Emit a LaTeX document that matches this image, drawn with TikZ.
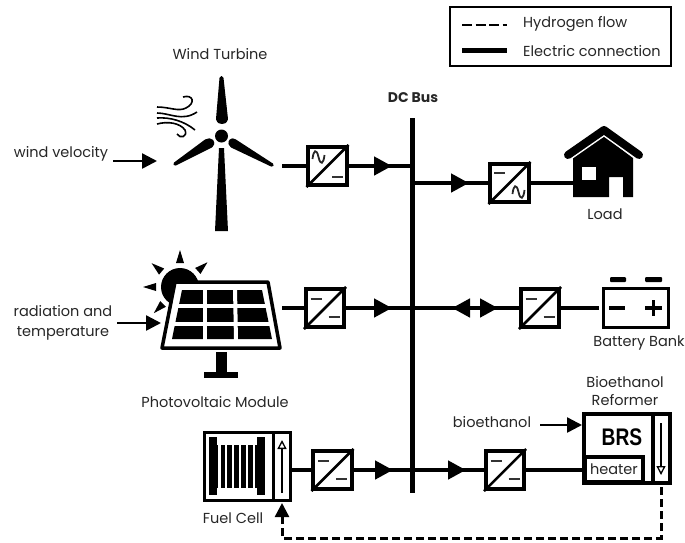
\documentclass[tikz,border=0pt]{standalone}
\usepackage{fontspec}
\setmainfont{Poppins}
\newfontfamily\brsfont{Liberation Sans}
\usetikzlibrary{positioning, arrows.meta}

\tikzset{
  lbl/.style={inner sep=0pt, text=black!85, font=\fontsize{14.5}{18}\selectfont},
  elecline/.style={line width=4.5pt},
  hydroline/.style={line width=3pt, dash pattern=on 8pt off 4pt},
  sigarrow/.style={line width=2.5pt, -{Triangle[length=15pt,width=15pt]}},
  flowtip/.style={-{Triangle[length=18pt,width=18pt]}},
  convbox/.style={draw, fill=white, line width=3.6pt, minimum size=38.5pt, inner sep=0pt},
  symline/.style={line width=2.6pt, black!80},
  sideflow/.style={line width=1.8pt, -{Triangle[open,length=9pt,width=9pt,line width=1.3pt]}}
}
\newcommand{\dcbar}[2]{\draw[symline] ([shift={(#2)}]#1) ++(-5.5,0) -- ++(11,0);}
\newcommand{\acwave}[2]{\draw[line width=1.8pt, black!85] ([shift={(#2)}]#1) ++(-6,2) .. controls +(1,-9) and +(-2,-9) .. ++(6,-2) .. controls +(2,9) and +(-1,9) .. ++(6,-2);}

\begin{document}
\begin{tikzpicture}[x=1pt,y=-1pt]
    \useasboundingbox (0,0) rectangle (685,542);
    % Bus and its junctions
    \coordinate (bustop) at (412,118);
    \coordinate (busbot) at (412,493);
    \coordinate (buswind) at (412,166);
    \coordinate (busload) at (412,183);
    \coordinate (buspv) at (412,308);
    \coordinate (busfuel) at (412,470);
    \draw [line width=5pt] (bustop) -- (busbot);
    \node[lbl, font=\fontsize{14}{16}\bfseries\selectfont] (buslabel) at (413,98) {DC Bus};

    % Converters
    \foreach \name/\px/\py in {windconv/327.5/166, loadconv/509.5/183, pvconv/325/308,
        battconv/540/308, fuelconv/332.5/470, brsconv/505/470} {
      \node[convbox] (\name) at (\px,\py) {};
      \draw[line width=2.5pt] (\name.south west) -- (\name.north east);
    }

    % Free ends of the connections
    \coordinate (windout) at (282,166);
    \coordinate (pvout) at (282,308);
    \coordinate (housein) at (575,183);
    \coordinate (tipwind) at (392,166);
    \coordinate (tipload) at (469,183);
    \coordinate (tippv) at (392,308);
    \coordinate (tipbattl) at (452,308);
    \coordinate (tipbattr) at (498,308);
    \coordinate (tipfuel) at (393,470);
    \coordinate (tipbrs) at (466,470);

    % Sources and sinks with a frame
    \node[draw, fill=white, line width=3.5pt, minimum width=86pt, minimum height=68pt, inner sep=0pt] (fuelcell) at (247.5,466.5) {};
    \node[draw, fill=white, line width=4pt, minimum width=86pt, minimum height=69pt, inner sep=0pt] (brs) at (627,448.5) {};
    \node[draw, fill=white, line width=3.5pt, minimum width=65pt, minimum height=39pt, inner sep=0pt] (battery) at (636,308) {};

    % Electric connections
    \begin{scope}[elecline]
      \draw (windout) -- (windconv);
      \draw (windconv) -- (buswind);
      \draw[flowtip] (windconv) -- (tipwind);
      \draw (busload) -- (loadconv);
      \draw[flowtip] (busload) -- (tipload);
      \draw (loadconv) -- (housein);
      \draw (pvout) -- (pvconv);
      \draw (pvconv) -- (buspv);
      \draw[flowtip] (pvconv) -- (tippv);
      \draw (buspv) -- (battconv);
      \draw[flowtip] (battconv) -- (tipbattl);
      \draw[flowtip] (buspv) -- (tipbattr);
      \draw[shorten >=3pt] (battconv) -- (battery);
      \draw (fuelcell.east |- fuelconv) -- (fuelconv);
      \draw (fuelconv) -- (busfuel);
      \draw[flowtip] (fuelconv) -- (tipfuel);
      \draw (busfuel) -- (brsconv);
      \draw[flowtip] (busfuel) -- (tipbrs);
      \draw (brsconv) -- (brsconv -| brs.west);
    \end{scope}

    % Converter symbols
    \acwave{windconv}{-9,-9}
    \dcbar{windconv}{10,11}
    \dcbar{loadconv}{-10,-10}
    \acwave{loadconv}{9,9}
    \dcbar{pvconv}{-9,-9}
    \dcbar{pvconv}{9,9}
    \dcbar{battconv}{-9,-9}
    \dcbar{battconv}{9,9}
    \dcbar{fuelconv}{-9,-9}
    \dcbar{fuelconv}{9,9}
    \dcbar{brsconv}{-9,-9}
    \dcbar{brsconv}{9,9}

    % Wind turbine
    \fill (221.5,136) circle (6.5);
    \filldraw[line width=4pt, line join=round] (221.5,78) -- (218,119)
      .. controls (218,123) and (226,123) .. (226,119) -- cycle;
    \filldraw[line width=3.5pt, line join=round] (175,164) -- (206,141)
      .. controls (211,138) and (215,143) .. (211,146) -- cycle;
    \filldraw[line width=3.5pt, line join=round] (272,165) -- (235,141)
      .. controls (231,138) and (228,143) .. (232,146) -- cycle;
    \fill (219,148) -- (224,148) -- (228,231) -- (215,231) -- cycle;
    \draw[line width=1.6pt] (157,107) .. controls (170,107) and (178,112) .. (186,108)
      .. controls (196,103) and (193,94) .. (183,97);
    \draw[line width=1.6pt] (157,113) .. controls (170,113) and (182,122) .. (197,112);
    \draw[line width=1.6pt] (157,118) .. controls (170,117) and (184,121) .. (195,130);
    \draw[line width=1.6pt] (157,124) .. controls (168,121) and (180,123) .. (185,130)
      .. controls (188,137) and (180,139) .. (177,134);
    \node[lbl] (windlabel) at (220,54) {Wind Turbine};
    \node[lbl] (windin) at (61,154) {wind velocity};
    \coordinate (windstart) at (113,161);
    \coordinate (windend) at (157,161);
    \draw[sigarrow] (windstart) -- (windend);

    % Sun and solar panel
    \fill (180,287) circle (19);
    \foreach \ang in {90,140,180,225,42} {
      \fill[rotate around={\ang-90:(180,287)}] (176,263) -- (184,263) -- (180,250) -- cycle;
    }
    \filldraw[fill=white, line width=3.5pt, line join=round] (175,282) -- (268,282) -- (280,348) -- (162,348) -- cycle;
    \fill (182,290) -- (262,290) -- (272,339) -- (172,339) -- cycle;
    \draw[white, line width=4pt] (176,306) -- (268,306);
    \draw[white, line width=4pt] (173,324) -- (272,324);
    \draw[white, line width=4pt] (205,288) -- (205,341);
    \draw[white, line width=4pt] (235,288) -- (236,341);
    \fill (216,352) rectangle (227,372);
    \fill (204,372) rectangle (238,378);
    \node[lbl] (pvlabel) at (215,402) {Photovoltaic Module};
    \node[lbl, align=center] (pvin) at (63,323) {radiation and\\[2pt]temperature};
    \coordinate (pvstart) at (117,323);
    \coordinate (pvend) at (161,323);
    \draw[sigarrow] (pvstart) -- (pvend);

    % House
    \fill (573,197) -- (573,158) -- (604,136) -- (633,158) -- (633,197) -- (623,197) -- (623,177) -- (609,177) -- (609,197) -- cycle;
    \fill[white] (582,167) rectangle (596,180);
    \draw[white, line width=11pt, line join=round] (568,155) -- (604,130) -- (639,155);
    \draw[line width=8pt, line cap=round, line join=round] (568,155) -- (604,130) -- (639,155);
    \node[lbl] (loadlabel) at (605,214) {Load};

    % Battery
    \fill[rounded corners=1pt] (610,277) rectangle (626,282);
    \fill[rounded corners=1pt] (645,277) rectangle (662,282);
    \draw[line width=3.5pt] (609,308) -- (625,308);
    \draw[line width=3.5pt] (645,308) -- (662,308);
    \draw[line width=3.5pt] (653.5,300) -- (653.5,316);
    \node[lbl] (battlabel) at (639,343) {Battery Bank};

    % Fuel cell
    \draw[line width=3pt] (273,431) -- (273,502);
    \fill (209,437) rectangle (217,495);
    \fill (257,437) rectangle (265,495);
    \fill (217,445) rectangle (257,488);
    \foreach \slot in {219.5,226,233,240,247,254} {
      \fill[white] (\slot-1.3,445) rectangle (\slot+1.3,488);
    }
    \coordinate (fueltop) at (282,440);
    \coordinate (fuelbot) at (282,493);
    \draw[sideflow] (fuelbot) -- (fueltop);
    \node[lbl] (fuellabel) at (233,518) {Fuel Cell};

    % Reformer
    \draw[line width=3.5pt] (653,412) -- (653,485);
    \node[draw, fill=white, line width=3.5pt, minimum width=58pt, minimum height=25pt, inner sep=0pt, lbl] (heater) at (614,469.5) {heater};
    \node[inner sep=0pt, font=\brsfont\fontsize{24}{26}\bfseries\selectfont] (brslabel) at (622,437) {\scalebox{0.8}[1]{BRS}};
    \coordinate (brstop) at (661,423);
    \coordinate (brsbot) at (661,475);
    \draw[sideflow] (brstop) -- (brsbot);
    \node[lbl, align=center] (brsname) at (625,391) {Bioethanol\\Reformer};
    \node[lbl] (ethlabel) at (492,422) {bioethanol};
    \coordinate (ethstart) at (540,425);
    \draw[sigarrow] (ethstart) -- (ethstart -| brs.west);

    % Hydrogen return
    \coordinate (hout) at (661,487);
    \coordinate (hlow) at (661,538);
    \coordinate (hin) at (282,503);
    \draw[hydroline] (hout) -- (hlow) -| (282,516);
    \draw[line width=2.5pt, -{Triangle[length=14pt,width=14pt]}] (282,519) -- (hin);

    % Legend
    \node[draw, line width=2pt, minimum width=221pt, minimum height=59pt, inner sep=0pt] (legend) at (560.5,36.5) {};
    \coordinate (leghs) at (462,25);
    \coordinate (leghe) at (507,25);
    \coordinate (leges) at (462,50);
    \coordinate (legee) at (507,50);
    \draw[line width=1.6pt, dash pattern=on 10pt off 3.5pt] (leghs) -- (leghe);
    \draw[line width=5pt] (leges) -- (legee);
    \node[lbl, anchor=west] (legh) at (523,24) {Hydrogen flow};
    \node[lbl, anchor=west] (lege) at (523,51) {Electric connection};
  \end{tikzpicture}
\end{document}
